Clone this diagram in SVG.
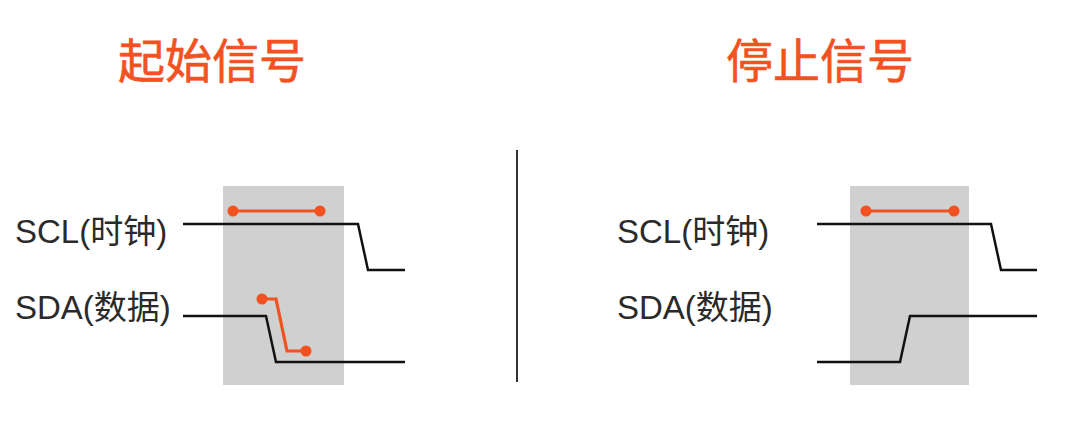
<svg xmlns="http://www.w3.org/2000/svg" width="1066" height="448" viewBox="0 0 1066 448">
<style>
.title{font-family:"Noto Sans CJK SC","Noto Sans",sans-serif;font-size:47px;font-weight:400;fill:#f2521f;stroke:#f2521f;stroke-width:0.6}
.lbl{font-family:"Liberation Sans","Noto Sans CJK SC",sans-serif;font-size:33px;fill:#2a2a2a}
.win{fill:#d0d0d0}
.sig{fill:none;stroke:#111;stroke-width:2.5;stroke-linejoin:miter}
.mark{fill:none;stroke:#f2521f;stroke-width:3.2}
.dot{fill:#f2521f}
</style>
<rect width="1066" height="448" fill="#fff"/>
<g id="start">
<text class="title" x="118" y="78">起始信号</text>
<rect class="win" x="223" y="186" width="121" height="199"/>
<text class="lbl" x="15" y="243">SCL(时钟)</text>
<text class="lbl" x="15" y="319">SDA(数据)</text>
</g>
<g id="stop">
<text class="title" x="726" y="78">停止信号</text>
<rect class="win" x="850" y="186" width="119" height="199"/>
<text class="lbl" x="617" y="243">SCL(时钟)</text>
<text class="lbl" x="617" y="319">SDA(数据)</text>
</g>
<g id="connectors">
<line x1="517" y1="150" x2="517" y2="382" stroke="#333" stroke-width="2"/>
<path class="sig" d="M183 224 H358 L368 270 H405"/>
<path class="sig" d="M183 316 H266 L276 362 H405"/>
<path class="mark" d="M233 211 H320"/>
<circle class="dot" cx="233" cy="211" r="5.5"/>
<circle class="dot" cx="320" cy="211" r="5.5"/>
<path class="mark" d="M262 299 H276 L287 351 H306"/>
<circle class="dot" cx="262" cy="299" r="5.5"/>
<circle class="dot" cx="306" cy="351" r="5.5"/>
<path class="sig" d="M817 224 H991 L1001 270 H1037"/>
<path class="sig" d="M817 362 H900 L910 316 H1037"/>
<path class="mark" d="M866 211 H954"/>
<circle class="dot" cx="866" cy="211" r="5.5"/>
<circle class="dot" cx="954" cy="211" r="5.5"/>
</g>
</svg>
